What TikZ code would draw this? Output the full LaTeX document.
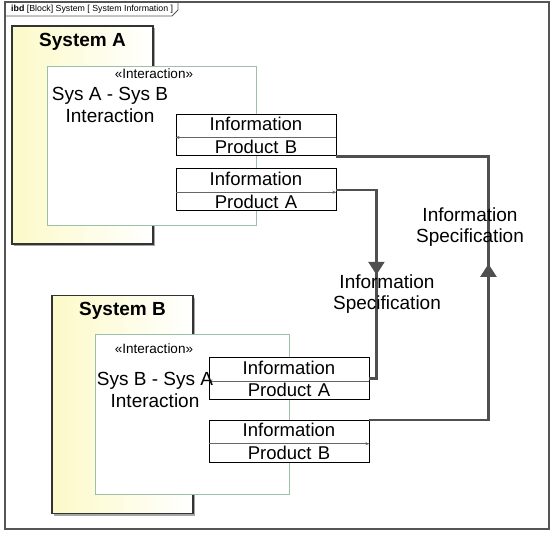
\documentclass[tikz,border=0pt]{standalone}
\usepackage{fontspec}
\setmainfont{Liberation Sans}
\usetikzlibrary{positioning,shapes,arrows.meta,shadows,decorations.markings}
\definecolor{frameg}{HTML}{555555}
\definecolor{linkg}{HTML}{4F4F4F}
\definecolor{partg}{HTML}{9CBFAA}
\definecolor{blky}{HTML}{FCFAC8}

\begin{document}
\begin{tikzpicture}[x=1pt,y=-1pt,
    block/.style={draw=black!80,line width=1.2pt,left color=blky,right color=white,
      drop shadow={shadow xshift=2pt,shadow yshift=-2pt,fill=black!35,opacity=1},
      minimum width=141pt,minimum height=218pt,inner sep=0pt},
    part/.style={draw=partg,line width=1pt,fill=white,inner sep=0pt,
      minimum width=209pt,minimum height=159pt},
    port/.style={rectangle split,rectangle split parts=2,rectangle split draw splits=false,
      draw=black,line width=0.9pt,fill=white,text width=152pt,align=center,
      inner xsep=4pt,inner ysep=2pt,text height=14pt,text depth=4.5pt,
      font=\fontsize{18.5}{22}\selectfont},
    div/.style={draw=black!60,line width=0.6pt,-{Stealth[length=4pt,width=3pt]}},
    flowmark/.style={decoration={markings,
      mark=at position #1 with {\arrow{Triangle[width=16pt,length=13pt]}}}},
    link/.style={draw=linkg,line width=2.5pt,postaction={decorate}},
    title/.style={font=\bfseries\fontsize{19}{22}\selectfont,anchor=north,yshift=-4pt},
    txt/.style={font=\fontsize{19}{21.5}\selectfont,align=center},
    stereo/.style={font=\fontsize{13.5}{16}\selectfont}]
  \useasboundingbox (0,0) rectangle (555,538);
  \draw[frameg,line width=1.4pt] (5,2) rectangle (549,529);
  \node[anchor=west,inner sep=0pt,font=\fontsize{8.8}{10}\selectfont] (tab) at (11,9)
    {\textbf{ibd} [Block] System [ System Information ]};
  \draw[frameg,line width=0.8pt] (5,16) -- (172,16) -- (178,10) -- (178,2);

  \node[block,label={[title]north:System A}] (sa) at (82.5,135) {};
  \node[part] (ia) at (151.5,145.5) {};
  \node[port] (pa1) at (256,135) {Information\nodepart{two}Product B};
  \node[port,below=12pt of pa1] (pa2) {Information\nodepart{two}Product A};
  \draw[div] (pa1.text split east) -- (pa1.text split west);
  \draw[div] (pa2.text split west) -- (pa2.text split east);
  \node[stereo] (sta) at (154,74) {«Interaction»};
  \node[txt] (na) at (110,105) {Sys A - Sys B\\Interaction};

  \node[block,label={[title]north:System B}] (sb) at (122.5,404.5) {};
  \node[part,minimum width=194pt,minimum height=160pt] (ib) at (192,414) {};
  \node[port] (pb1) at (289,378.5) {Information\nodepart{two}Product A};
  \node[port,below=20pt of pb1] (pb2) {Information\nodepart{two}Product B};
  \draw[div] (pb1.text split east) -- (pb1.text split west);
  \draw[div] (pb2.text split west) -- (pb2.text split east);
  \node[stereo] (stb) at (154,349) {«Interaction»};
  \node[txt] (nb) at (155,390) {Sys B - Sys A\\Interaction};

  \draw[link,flowmark=125pt] (pa2.east) -- ++(40,0) |- (pb1.east);
  \draw[link,flowmark=275pt] (pb2.north east) -- ++(119,0) |- (pa1.south east);
  \node[txt] (spec1) at (387,294) {Information\\Specification};
  \node[txt] (spec2) at (470,227) {Information\\Specification};
\end{tikzpicture}
\end{document}
